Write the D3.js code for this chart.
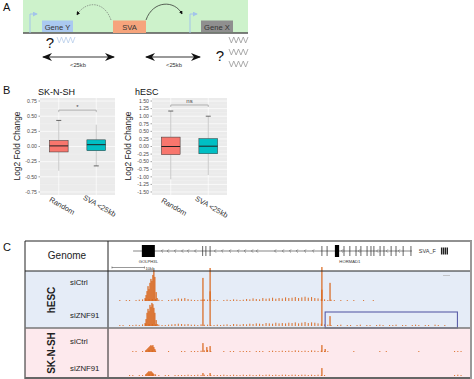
<!DOCTYPE html>
<html><head><meta charset="utf-8">
<script src="https://cdn.jsdelivr.net/npm/d3@7"></script>
<style>body{margin:0;background:#fff}svg{display:block}text{font-family:"Liberation Sans",Arial,sans-serif}</style>
</head><body><svg id="c" width="474" height="379"></svg>
<script>
// ---------------- DATA ----------------
// Panel B box-plot summaries
const boxCats = ["Random", "SVA <25kb"];
const sknshLow  = [-0.40, -0.32];
const sknshQ1   = [-0.09, -0.07];
const sknshMed  = [0.01, 0.03];
const sknshQ3   = [0.10, 0.11];
const sknshHigh = [0.43, 0.36];
const sknshMarks = [[0, 0.43], [1, -0.32]];
const sknshTicks = [-0.75, -0.50, -0.25, 0.00, 0.25, 0.50, 0.75];
const sknshSig = {y: 0.60, label: "*"};

const hescLow  = [-1.08, -0.94];
const hescQ1   = [-0.27, -0.24];
const hescMed  = [0.00, 0.01];
const hescQ3   = [0.31, 0.26];
const hescHigh = [1.17, 1.00];
const hescMarks = [[0, 1.17], [1, 1.00]];
const hescTicks = [-1.50, -1.25, -1.00, -0.75, -0.50, -0.25, 0.00, 0.25, 0.50, 0.75, 1.00, 1.25, 1.50];
const hescSig = {y: 1.37, label: "ns"};
const boxColors = ["#F8766D", "#00BFC4"];

// Panel C genome track (kb)
const geneSpan = [7.1, 92.9];
const thickExons = [[9.8, 13.8], [69.2, 70.5]];
const thinExons = [28.5, 29.5, 30.8, 65.2, 66.8, 72.0, 73.8, 75.7, 77.2, 79.1, 80.3, 81.2, 83.1, 84.3, 86.5, 88.0, 90.2, 92.6];
const chevrons = [16.0, 17.8, 20.0, 22.2, 24.0, 26.2, 32.3, 34.5, 36.9, 39.4, 41.5, 43.7, 45.2, 50.8, 53.2, 55.4, 57.5, 60.0, 62.5, 71.4, 76.6, 82.2, 85.2, 88.9];
const geneLabels = [["GOLPH3L", 11.8], ["HORMAD1", 73.8]];
const svaF = [101.8, 104.0];
const highlightKb = [66.2, 106.9];

// Coverage: background per kb starting at kb 3
const bgStart = 3;
const hescCtrlBg = [3,0,3,3,0,3,4,5,6,6, 6,6,4,3,0,3,4,6,8,7, 9,6,4,3,3,4,5,4,3,4, 3,0,3,4,3,5,4,3,4,6,
  5,8,6,5,9,7,8,10,7,9, 8,11,9,10,12,9,11,13,10,12, 9,8,6,5,3,4,3,0,3,0, 3,0,3,0,0,3,0,0,3,0,
  0,0,0,0,0,0,0,0,0,0, 0,0,0,0,0,0,0,0,0,0, 0,0,0,0,0,0];
const hescZnfBg = [3,3,0,3,3,4,3,5,6,6, 6,5,4,3,3,4,5,6,7,6, 5,6,4,4,3,5,4,4,3,3, 4,3,4,5,3,6,5,4,6,5,
  7,6,8,7,6,9,8,7,10,8, 9,8,10,9,11,8,10,12,9,11, 10,8,7,5,4,3,0,3,4,0, 3,3,0,3,4,0,3,3,0,3,
  4,3,0,3,3,4,0,3,3,0, 3,4,3,0,3,3,0,4,3,0, 3,0,0,0,0,0];
const skCtrlBg = [0,0,0,0,3,3,0,3,4,6, 5,4,0,0,0,3,0,0,0,3, 3,0,3,3,3,4,5,6,3,0, 0,0,3,0,3,3,0,3,3,3,
  3,0,3,3,3,0,3,4,3,3, 4,3,4,3,5,4,3,4,3,5, 4,3,4,3,3,0,0,0,0,0, 0,0,3,0,0,0,0,0,0,0,
  3,0,3,0,0,0,0,0,0,0, 0,0,3,0,0,0,0,0,0,0, 0,0,0,3,3,3];
const skZnfBg = [0,0,0,3,3,0,3,3,4,6, 6,5,3,0,3,3,0,3,3,3, 3,4,3,3,4,3,4,3,3,3, 3,3,4,3,3,4,3,3,4,3,
  4,3,3,4,3,4,4,3,4,3, 4,4,3,4,4,3,4,4,3,4, 3,4,3,3,0,0,0,0,0,0, 0,0,0,0,0,0,0,0,0,0,
  0,0,0,0,0,0,0,0,0,0, 0,0,0,0,0,0,0,0,0,0, 0,0,0,3,4,3];
// Peaks [kb, signal]
const hescCtrlPeaks = [[10.8,9],[11.1,18],[11.4,30],[11.7,45],[12.0,36],[12.3,55],[12.6,67],[12.9,61],[13.2,79],[13.5,94],[13.8,73],[14.2,27],[14.5,9],[28.6,70],[30.8,100],[65.2,103],[67.7,55]];
const hescZnfPeaks = [[10.8,9],[11.1,21],[11.4,40],[11.7,52],[12.0,45],[12.3,64],[12.6,58],[12.9,70],[13.2,66],[13.5,55],[13.8,40],[14.2,18],[14.5,6],[28.6,80],[30.8,105],[65.2,110],[67.7,30]];
const skCtrlPeaks = [[11.1,6],[11.4,9],[11.7,12],[12.0,15],[12.3,18],[12.6,21],[12.9,18],[13.2,21],[13.5,15],[13.8,9],[28.6,27],[29.8,15],[30.8,18],[65.2,21],[66.2,9]];
const skZnfPeaks = [[11.1,6],[11.4,9],[11.7,12],[12.0,15],[12.3,12],[12.6,15],[12.9,12],[13.2,9],[13.5,6],[28.6,9],[30.8,9],[65.2,24]];

// ---------------- DRAW ----------------
const svg = d3.select("#c");
const defs = svg.append("defs");
defs.append("marker").attr("id","stealth").attr("viewBox","0 0 10 8").attr("refX",9).attr("refY",4)
  .attr("markerWidth",11).attr("markerHeight",8).attr("markerUnits","userSpaceOnUse").attr("orient","auto-start-reverse")
  .append("path").attr("d","M0,0 L10,4 L0,8 L3,4 Z").attr("fill","#111");
defs.append("marker").attr("id","smallhead").attr("viewBox","0 0 6 6").attr("refX",5).attr("refY",3)
  .attr("markerWidth",4).attr("markerHeight",4).attr("markerUnits","userSpaceOnUse").attr("orient","auto")
  .append("path").attr("d","M0,0 L6,3 L0,6 Z").attr("fill","#111");
defs.append("marker").attr("id","bluehead").attr("viewBox","0 0 6 6").attr("refX",5).attr("refY",3)
  .attr("markerWidth",5).attr("markerHeight",5).attr("markerUnits","userSpaceOnUse").attr("orient","auto")
  .append("path").attr("d","M0,0 L6,3 L0,6 Z").attr("fill","#a3c4ea");
const pat = defs.append("pattern").attr("id","hatch").attr("width",2).attr("height",2).attr("patternUnits","userSpaceOnUse");
pat.append("rect").attr("width",2).attr("height",2).attr("fill","#222");
pat.append("rect").attr("width",0.7).attr("height",2).attr("fill","#ccc");

// Panel letters
[["A",3,11],["B",3,94],["C",3,251]].forEach(([t,x,y]) =>
  svg.append("text").attr("x",x).attr("y",y).attr("font-size",11).attr("fill","#111").text(t));

// ---- Panel A ----
const A = svg.append("g");
A.append("rect").attr("x",23).attr("y",0).attr("width",225).attr("height",33).attr("fill","#cdf2cb");
A.append("line").attr("x1",23).attr("x2",248).attr("y1",33).attr("y2",33).attr("stroke","#555").attr("stroke-width",1.3);
const boxesA = [["Gene Y",42,31,"#aac9f0"],["SVA",113,33,"#f6a47c"],["Gene X",201,32,"#8f8f8f"]];
boxesA.forEach(([t,x,w,c]) => {
  A.append("rect").attr("x",x).attr("y",20.5).attr("width",w).attr("height",t==="SVA"?12.5:11.5).attr("fill",c);
  A.append("text").attr("x",x+w/2).attr("y",29.8).attr("text-anchor","middle").attr("font-size",7.6).attr("fill","#333").text(t);
});
[[30,37],[190,197]].forEach(([x0,x1]) =>
  A.append("path").attr("d",`M${x0},33 V14 H${x1}`).attr("fill","none").attr("stroke","#a3c4ea").attr("stroke-width",1).attr("marker-end","url(#bluehead)"));
A.append("path").attr("d","M111,20 C104,0 85,1 77,15").attr("fill","none").attr("stroke","#666").attr("stroke-width",0.6).attr("stroke-dasharray","1.5,1").attr("marker-end","url(#smallhead)");
A.append("path").attr("d","M146,20 C153,0 175,0 182,14").attr("fill","none").attr("stroke","#222").attr("stroke-width",0.7).attr("marker-end","url(#smallhead)");
function squiggle(x0, y0, w, h, n, col) {
  const pts = [];
  for (let i = 0; i <= n; i++) pts.push([x0 + i * w / n, y0 + (i % 2 ? h : 0)]);
  A.append("path").attr("d", d3.line()(pts)).attr("fill","none").attr("stroke",col).attr("stroke-width",0.8);
}
squiggle(57, 37, 18, 6, 8, "#b6cdea");
[37, 49, 61].forEach(y => squiggle(229, y, 19, 6, 8, "#999"));
A.append("text").attr("x",50).attr("y",48).attr("text-anchor","middle").attr("font-size",15).attr("fill","#111").text("?");
A.append("text").attr("x",220).attr("y",61).attr("text-anchor","middle").attr("font-size",15).attr("fill","#111").text("?");
[[43,114,78],[146,200,174]].forEach(([x0,x1,xm]) => {
  A.append("line").attr("x1",x0).attr("x2",x1).attr("y1",57).attr("y2",57).attr("stroke","#777").attr("stroke-width",1.6)
    .attr("marker-start","url(#stealth)").attr("marker-end","url(#stealth)");
  A.append("text").attr("x",xm).attr("y",67).attr("text-anchor","middle").attr("font-size",5.8).attr("fill","#333").text("<25kb");
});

// ---- Panel B ----
function boxPanel(cfg) {
  const g = svg.append("g");
  const y = d3.scaleLinear().domain(cfg.domain).range([195, 98]);
  const x = d3.scalePoint().domain(boxCats).range([cfg.x0, cfg.x1]).padding(0.5);
  g.append("rect").attr("x",cfg.x0).attr("y",98).attr("width",cfg.x1-cfg.x0).attr("height",97).attr("fill","#ebebeb");
  const minor = d3.range(cfg.ticks.length - 1).map(i => (cfg.ticks[i] + cfg.ticks[i+1]) / 2);
  g.selectAll(".mn").data(minor).join("line").attr("x1",cfg.x0).attr("x2",cfg.x1)
    .attr("y1",d=>y(d)).attr("y2",d=>y(d)).attr("stroke","#f6f6f6").attr("stroke-width",0.4);
  g.selectAll(".mj").data(cfg.ticks).join("line").attr("x1",cfg.x0).attr("x2",cfg.x1)
    .attr("y1",d=>y(d)).attr("y2",d=>y(d)).attr("stroke","#fff").attr("stroke-width",0.7);
  g.selectAll(".vg").data(boxCats).join("line").attr("x1",d=>x(d)).attr("x2",d=>x(d)).attr("y1",98).attr("y2",195)
    .attr("stroke","#fff").attr("stroke-width",0.7);
  g.selectAll(".tl").data(cfg.ticks).join("text").attr("x",cfg.x0-3).attr("y",d=>y(d)+1.8)
    .attr("text-anchor","end").attr("font-size",5.2).attr("fill","#4d4d4d").text(d=>d.toFixed(2));
  g.selectAll(".tk").data(cfg.ticks).join("line").attr("x1",cfg.x0-1.5).attr("x2",cfg.x0)
    .attr("y1",d=>y(d)).attr("y2",d=>y(d)).attr("stroke","#444").attr("stroke-width",0.5);
  g.append("text").attr("transform",`translate(${cfg.titleX},146) rotate(-90)`).attr("text-anchor","middle")
    .attr("font-size",8.4).attr("fill","#222").text("Log2 Fold Change");
  g.append("text").attr("x",cfg.labelX).attr("y",95).attr("font-size",9).attr("fill","#111").text(cfg.title);
  const bw = x.step() * 0.5;
  boxCats.forEach((c, i) => {
    const cx = x(c);
    g.append("line").attr("x1",cx).attr("x2",cx).attr("y1",y(cfg.high[i])).attr("y2",y(cfg.q3[i])).attr("stroke","#999").attr("stroke-width",0.5);
    g.append("line").attr("x1",cx).attr("x2",cx).attr("y1",y(cfg.q1[i])).attr("y2",y(cfg.low[i])).attr("stroke","#999").attr("stroke-width",0.5);
    g.append("rect").attr("x",cx-bw/2).attr("y",y(cfg.q3[i])).attr("width",bw).attr("height",y(cfg.q1[i])-y(cfg.q3[i]))
      .attr("fill",boxColors[i]).attr("stroke","#333").attr("stroke-width",0.5);
    g.append("line").attr("x1",cx-bw/2).attr("x2",cx+bw/2).attr("y1",y(cfg.med[i])).attr("y2",y(cfg.med[i])).attr("stroke","#222").attr("stroke-width",1);
  });
  cfg.marks.forEach(([i, v]) => g.append("line").attr("x1",x(boxCats[i])-2.5).attr("x2",x(boxCats[i])+2.5)
    .attr("y1",y(v)).attr("y2",y(v)).attr("stroke","#444").attr("stroke-width",0.8));
  const sy0 = y(cfg.sig.y), xa = x(boxCats[0]), xb = x(boxCats[1]);
  g.append("path").attr("d",`M${xa},${sy0+2} V${sy0} H${xb} V${sy0+2}`).attr("fill","none").attr("stroke","#777").attr("stroke-width",0.5);
  g.append("text").attr("x",(xa+xb)/2).attr("y",sy0-1.5).attr("text-anchor","middle").attr("font-size",6).attr("fill","#444").text(cfg.sig.label);
  boxCats.forEach((c, i) => {
    g.append("text").attr("transform",`translate(${x(c)+2},${cfg.catY}) rotate(30)`).attr("text-anchor","middle")
      .attr("font-size",7.4).attr("fill","#333").text(c);
  });
}
boxPanel({x0:40, x1:115, domain:[-0.8,0.8], ticks:sknshTicks, low:sknshLow, q1:sknshQ1, med:sknshMed, q3:sknshQ3, high:sknshHigh,
  marks:sknshMarks, sig:sknshSig, title:"SK-N-SH", labelX:38, titleX:20, catY:208});
boxPanel({x0:152, x1:227, domain:[-1.6,1.6], ticks:hescTicks, low:hescLow, q1:hescQ1, med:hescMed, q3:hescQ3, high:hescHigh,
  marks:hescMarks, sig:hescSig, title:"hESC", labelX:135, titleX:131, catY:209});

// ---- Panel C ----
const C = svg.append("g");
const gx = d3.scaleLinear().domain([0, 110]).range([110, 467.5]);
const sh = d3.scaleLinear().domain([0, 100]).range([0, 33]);
C.append("rect").attr("x",25).attr("y",271).attr("width",447).attr("height",57).attr("fill","#e5ecf7");
C.append("rect").attr("x",25).attr("y",328).attr("width",447).attr("height",51).attr("fill","#fde9ed");
// genome
C.append("text").attr("x",67).attr("y",259).attr("text-anchor","middle").attr("font-family","Lato").attr("font-size",10).attr("fill","#222").text("Genome");
const gy = 251;
C.append("line").attr("x1",gx(geneSpan[0])).attr("x2",gx(geneSpan[1])).attr("y1",gy).attr("y2",gy).attr("stroke","#333").attr("stroke-width",0.6);
C.selectAll(".chev").data(chevrons).join("path")
  .attr("d",d=>`M${gx(d)+1},${gy-1.6} L${gx(d)-0.6},${gy} L${gx(d)+1},${gy+1.6}`).attr("fill","none").attr("stroke","#333").attr("stroke-width",0.5);
C.selectAll(".tex").data(thinExons).join("line").attr("x1",d=>gx(d)).attr("x2",d=>gx(d)).attr("y1",gy-5).attr("y2",gy+5)
  .attr("stroke","#222").attr("stroke-width",0.7);
C.selectAll(".thk").data(thickExons).join("rect").attr("x",d=>gx(d[0])).attr("width",d=>gx(d[1])-gx(d[0]))
  .attr("y",gy-6).attr("height",12).attr("fill","#000");
C.selectAll(".gl").data(geneLabels).join("text").attr("x",d=>gx(d[1])).attr("y",gy+12).attr("text-anchor","middle")
  .attr("font-size",4.2).attr("fill","#333").text(d=>d[0]);
C.append("text").attr("x",gx(svaF[0])-5).attr("y",gy+2).attr("text-anchor","end").attr("font-size",5.5).attr("fill","#333").text("SVA_F");
C.append("rect").attr("x",gx(svaF[0])).attr("width",gx(svaF[1])-gx(svaF[0])).attr("y",gy-3.5).attr("height",7).attr("fill","url(#hatch)");
// scale bar
C.append("path").attr("d",`M${gx(0.6)},${gy+15.5} V${gy+17.5} M${gx(0.6)},${gy+16.5} H${gx(10.6)} M${gx(10.6)},${gy+15.5} V${gy+17.5}`)
  .attr("stroke","#333").attr("stroke-width",0.5).attr("fill","none");
C.append("text").attr("x",gx(10.6)+1).attr("y",gy+18.5).attr("font-size",4.2).attr("fill","#333").text("10kb");
// tracks
const tracks = [
  {base:301, bg:hescCtrlBg, peaks:hescCtrlPeaks},
  {base:326, bg:hescZnfBg, peaks:hescZnfPeaks},
  {base:352, bg:skCtrlBg, peaks:skCtrlPeaks},
  {base:376, bg:skZnfBg, peaks:skZnfPeaks}];
const sigCol = "#d9651a";
tracks.forEach(t => {
  const g = C.append("g");
  g.selectAll("rect.bg").data(t.bg.map((v,i)=>[bgStart+i, v]).filter(d=>d[1]>0)).join("rect")
    .attr("x",d=>gx(d[0])-0.5).attr("width",1.1).attr("y",d=>t.base-sh(d[1])).attr("height",d=>sh(d[1])).attr("fill",sigCol).attr("opacity",0.85);
  g.selectAll("rect.pk").data(t.peaks).join("rect")
    .attr("x",d=>gx(d[0])-0.6).attr("width",1.2).attr("y",d=>t.base-sh(d[1])).attr("height",d=>sh(d[1])).attr("fill",sigCol);
});
// highlight
C.append("rect").attr("x",gx(highlightKb[0])).attr("width",gx(highlightKb[1])-gx(highlightKb[0])).attr("y",312).attr("height",16)
  .attr("fill","none").attr("stroke","#5b5ea8").attr("stroke-width",1.1);
C.append("line").attr("x1",443).attr("x2",450).attr("y1",275.5).attr("y2",275.5).attr("stroke","#aaa").attr("stroke-width",0.6);
// labels
const lf = "Lato";
[["siCtrl",285],["siZNF91",318],["siCtrl",344],["siZNF91",371]].forEach(([t,y]) =>
  C.append("text").attr("x",70).attr("y",y).attr("font-family",lf).attr("font-size",7.8).attr("fill","#222").text(t));
[["hESC",300],["SK-N-SH",353]].forEach(([t,y]) =>
  C.append("text").attr("transform",`translate(55,${y}) rotate(-90)`).attr("text-anchor","middle").attr("font-family",lf)
    .attr("font-weight",700).attr("font-size",10).attr("fill","#222").text(t));
// borders
const bl = (x1,y1,x2,y2,c,w) => C.append("line").attr("x1",x1).attr("y1",y1).attr("x2",x2).attr("y2",y2).attr("stroke",c).attr("stroke-width",w);
bl(25,241,472,241,"#222",1);
bl(25,241,25,379,"#222",1);
bl(108,241,108,379,"#222",1);
bl(25,271,472,271,"#222",1);
bl(25,328,472,328,"#777",1.5);
bl(25,378,472,378,"#666",2);
bl(471,241,471,379,"#999",2);
</script></body></html>
